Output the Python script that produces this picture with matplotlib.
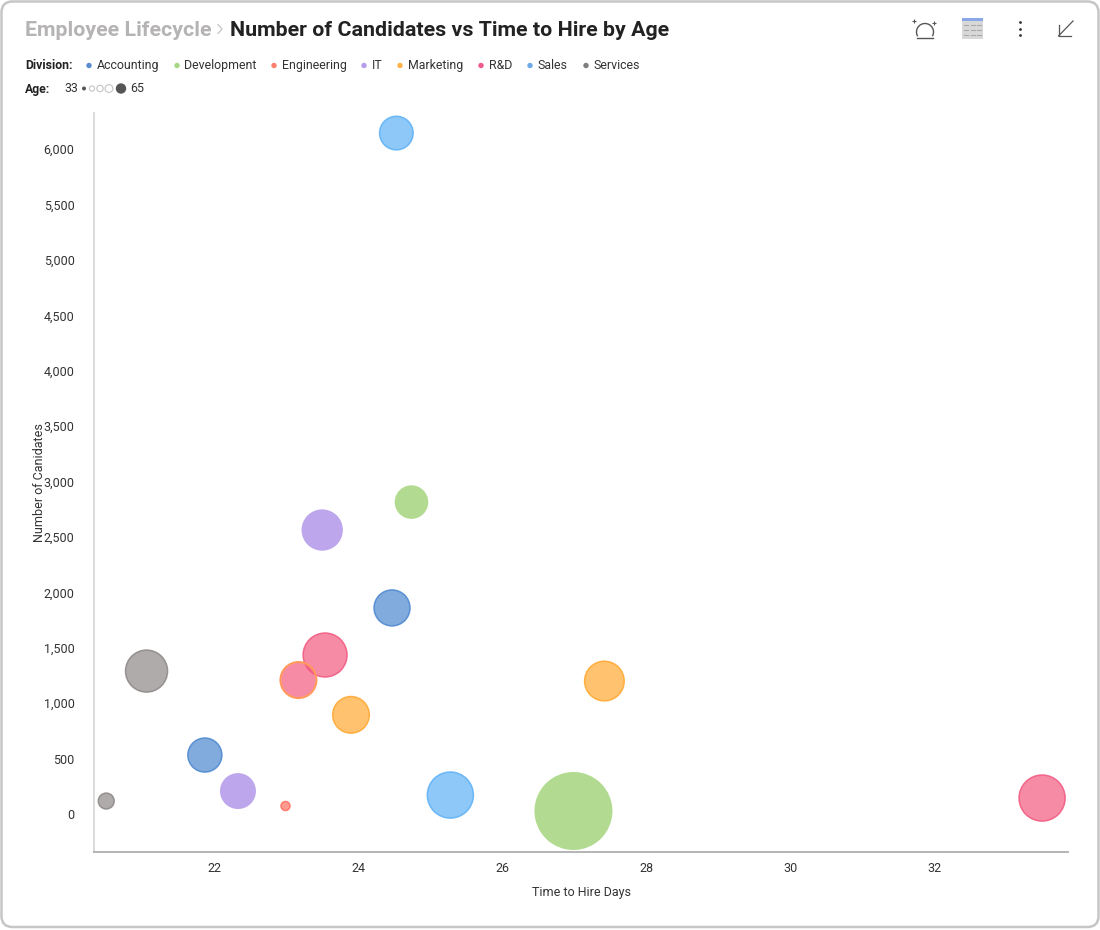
import matplotlib
matplotlib.use('Agg')
import matplotlib.pyplot as plt
from matplotlib.patches import Circle, FancyBboxPatch, Rectangle, Arc
from matplotlib.ticker import FuncFormatter

plt.rcParams['font.family'] = ['Roboto', 'DejaVu Sans']

# legend
divisions = ['Accounting', 'Development', 'Engineering', 'IT', 'Marketing', 'R&D', 'Sales', 'Services']
legend_colors = ['#5b8bd0', '#a6d785', '#ff7f6e', '#b79cec', '#ffb347', '#ee5a8c', '#6fa8e6', '#7f7f7f']
fill_colors = ['#4a86cf', '#90cc60', '#ff6f5e', '#a07ee4', '#ffa72e', '#f2577f', '#5cb0f6', '#8c8686']

# one entry per bubble
bubble_division = ['Services', 'Services', 'Accounting', 'Accounting', 'IT', 'IT', 'Engineering', 'Engineering',
                   'R&D', 'R&D', 'R&D', 'Marketing', 'Marketing', 'Sales', 'Sales', 'Development', 'Development']
time_to_hire = [20.5, 21.06, 21.87, 24.47, 22.33, 23.5, 22.99, 23.17,
                23.17, 23.54, 33.5, 23.9, 27.42, 24.53, 25.28, 24.74, 26.99]
candidates = [117, 1290, 532, 1860, 207, 2563, 72, 1209,
              1209, 1435, 144, 895, 1200, 6146, 171, 2815, 27]
ages = [36.2, 48.3, 44.6, 45.5, 45.5, 48, 33, 45.5,
        45, 49.2, 50.2, 45.8, 47.2, 44.4, 50.2, 44.4, 65]

x_ticks = [22, 24, 26, 28, 30, 32]
y_ticks = [0, 500, 1000, 1500, 2000, 2500, 3000, 3500, 4000, 4500, 5000, 5500, 6000]

TEXT = '#333333'
NO_EDGE = ['IT', 'Development']


def age_to_area(age):
    # radius in px grows linearly with age, 33 -> 4.5, 65 -> 39
    radius = 4.5 + (age - 33) * 34.5 / 32
    return (2 * radius * 0.72) ** 2


fig = plt.figure(figsize=(11, 9.3), dpi=100)
fig.patch.set_facecolor('white')

# overlay in pixel coordinates for the card, header and icons
ui = fig.add_axes([0, 0, 1, 1])
ui.set_xlim(0, 1100)
ui.set_ylim(930, 0)
ui.axis('off')
ui.add_patch(FancyBboxPatch((1.5, 1.5), 1097, 925.5, boxstyle='round,pad=0,rounding_size=11',
                            fc='white', ec='#c6c6c6', lw=1.8))

ax = fig.add_axes([94 / 1100, 78 / 930, 974 / 1100, 739 / 930])
ax.patch.set_alpha(0)
ax.set_xlim(20.33, 33.86)
ax.set_ylim(-343, 6327)
for side in ['top', 'right']:
    ax.spines[side].set_visible(False)
ax.spines['left'].set_color('#d4d4d4')
ax.spines['bottom'].set_color('#b4b4b4')
ax.spines['left'].set_linewidth(1.2)
ax.spines['bottom'].set_linewidth(1.4)
ax.set_xticks(x_ticks)
ax.set_yticks(y_ticks)
ax.yaxis.set_major_formatter(FuncFormatter(lambda v, _: f'{int(v):,}'))
ax.tick_params(axis='both', length=0, labelsize=9, labelcolor=TEXT)
ax.tick_params(axis='x', pad=7)
ax.tick_params(axis='y', pad=14)
ax.set_xlabel('Time to Hire Days', fontsize=9, color=TEXT, labelpad=8)
ax.set_ylabel('Number of Canidates', fontsize=9, color=TEXT, labelpad=-2)

for x, y, age, name in zip(time_to_hire, candidates, ages, bubble_division):
    color = fill_colors[divisions.index(name)]
    # the big Engineering bubble sits right under an R&D one, only its rim shows
    hidden = name == 'Engineering' and age > 40
    covering = name == 'R&D' and age < 46
    if not hidden:
        ax.scatter(x, y, s=age_to_area(age), facecolor=color, edgecolor='none', alpha=0.69, zorder=3)
    if hidden:
        ax.scatter(x, y, s=age_to_area(age), facecolor='none', edgecolor='#ff9a5c', linewidth=1.5, zorder=4)
    elif name not in NO_EDGE and not covering:
        ax.scatter(x, y, s=age_to_area(age), facecolor='none', edgecolor=color, linewidth=1.1, alpha=0.85, zorder=3)

# header
ui.text(25, 36, 'Employee Lifecycle', fontsize=15.4, fontweight='bold', color='#b5b3b3', va='baseline')
ui.plot([218, 222, 218], [24.5, 29, 33.5], color='#c4c4c4', lw=0.9)
ui.text(230, 36, 'Number of Candidates vs Time to Hire by Age', fontsize=15.4, fontweight='bold',
        color='#222222', va='baseline')

# division legend
ui.text(25, 69, 'Division:', fontsize=8.8, fontweight='bold', color='#222222', va='baseline')
dot_x = [89, 177, 274, 364, 400, 481, 530, 586]
label_x = [97, 184, 282, 372, 408, 489, 538, 593]
for name, color, dx, lx in zip(divisions, legend_colors, dot_x, label_x):
    ui.add_patch(Circle((dx, 65.5), 2.7, fc=color, ec='none'))
    ui.text(lx, 69, name, fontsize=8.9, color=TEXT, va='baseline')

# age legend
ui.text(25, 92.5, 'Age:', fontsize=8.8, fontweight='bold', color='#222222', va='baseline')
ui.text(64, 92.5, '33', fontsize=8.9, color=TEXT, va='baseline')
ui.add_patch(Circle((84, 88.5), 2, fc='#555555', ec='none'))
for cx, r in zip([92, 100, 109], [2.6, 3.2, 3.9]):
    ui.add_patch(Circle((cx, 88.5), r, fc='white', ec='#c4c4c4', lw=0.8))
ui.add_patch(Circle((121, 88.5), 5.2, fc='#555555', ec='none'))
ui.text(130, 92.5, '65', fontsize=8.9, color=TEXT, va='baseline')

# toolbar icons
icon = '#555555'
ui.add_patch(Arc((925, 32), 17, 17, theta1=150, theta2=390, color=icon, lw=1))
ui.plot([917, 933], [38, 38], color=icon, lw=1)
ui.plot([914], [21], marker='+', ms=3, color=icon, mew=0.8)
ui.plot([934], [23], marker='+', ms=3, color=icon, mew=0.8)
ui.add_patch(Rectangle((962, 18), 21, 21, fc='#d8d8d8', ec='none'))
ui.add_patch(Rectangle((962, 18), 21, 3, fc='#8aa8e8', ec='none'))
for ty in [25, 30, 35]:
    for tx in [964, 971, 977]:
        ui.plot([tx, tx + 4], [ty, ty], color='#a8a8a8', lw=0.8)
ui.plot([1019.5] * 3, [22, 29, 35], 'o', ms=2, color='#333333', mew=0)
ui.plot([1073, 1058.5], [21, 36], color=icon, lw=0.9)
ui.plot([1058.5, 1058.5, 1071], [25, 36, 36], color=icon, lw=0.9)

fig.savefig('out.png', dpi=100)
